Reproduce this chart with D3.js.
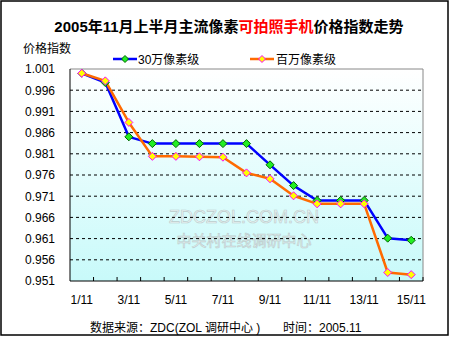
<!DOCTYPE html>
<html>
<head>
<meta charset="utf-8">
<script src="https://cdn.jsdelivr.net/npm/d3@7"></script>
<style>
  body { margin: 0; background: #fff; }
  svg { display: block; font-family: "Liberation Sans", Arial, "Noto Sans CJK SC", sans-serif; }
</style>
</head>
<body>
<svg id="chart" width="450" height="337"></svg>
<script>
// data
const days = ["1/11","2/11","3/11","4/11","5/11","6/11","7/11","8/11","9/11","10/11","11/11","12/11","13/11","14/11","15/11"]
const xLabels = ["1/11","3/11","5/11","7/11","9/11","11/11","13/11","15/11"]
const yTicks = [0.951,0.956,0.961,0.966,0.971,0.976,0.981,0.986,0.991,0.996,1.001]
const px30w = [1.000,0.9978,0.9850,0.9834,0.9834,0.9834,0.9834,0.9834,0.9784,0.9735,0.9700,0.9700,0.9700,0.9611,0.9606]
const pxMega = [1.000,0.9982,0.9884,0.9804,0.9804,0.9803,0.9802,0.9765,0.9751,0.9711,0.9692,0.9692,0.9692,0.9530,0.9525]
const series = [
  {name:"30万像素级", values:px30w, line:"#0000ff", fill:"#22ee22", edge:"#006600"},
  {name:"百万像素级", values:pxMega, line:"#ff6a00", fill:"#ffff00", edge:"#ff00ff"},
]

let svg = d3.select("#chart")
let L = 70, R = 423, T = 69, B = 281

//outer frame
svg.append("rect").attr("x",1).attr("y",1).attr("width",447).attr("height",334)
  .attr("fill","#fff").attr("stroke","#000").attr("stroke-width",1.5)

//gradient bg
let defs = svg.append("defs")
let grad = defs.append("linearGradient").attr("id","bg").attr("x1",0).attr("y1",0).attr("x2",0).attr("y2",1)
grad.append("stop").attr("offset","0%").attr("stop-color","#ffffff")
grad.append("stop").attr("offset","100%").attr("stop-color","#c8fafa")

let x = d3.scaleBand().domain(days).range([L,R]).padding(0)
let y = d3.scaleLinear().domain([0.951,1.001]).range([B,T])
let cx = d => x(d) + x.bandwidth()/2

svg.append("rect").attr("x",L).attr("y",T).attr("width",R-L).attr("height",B-T).attr("fill","url(#bg)")

//watermark
let wm = svg.append("g").attr("fill","#eef4f4").attr("stroke","#b8c4c4").attr("stroke-width",0.6)
  .attr("text-anchor","middle").attr("opacity",0.85)
wm.append("text").attr("x",244).attr("y",223).attr("font-size",18).text("ZDCZOL.COM.CN")
wm.append("text").attr("x",244).attr("y",246).attr("font-size",15).attr("font-family","Noto Sans CJK SC").text("中关村在线调研中心")

//grid
svg.append("g").selectAll("line").data(yTicks.slice(1,-1)).enter().append("line")
  .attr("x1",L).attr("x2",R).attr("y1",d => y(d)).attr("y2",d => y(d))
  .attr("stroke","#000").attr("stroke-dasharray","3,3")

//borders
svg.append("path").attr("d",`M${L},${T}H${R}V${B}`).attr("fill","none").attr("stroke","#888")
svg.append("path").attr("d",`M${L},${T}V${B}H${R}`).attr("fill","none").attr("stroke","#000")

//x ticks at band edges (inward)
let edges = days.map(d => x(d)).concat([R])
svg.append("g").selectAll("line").data(edges.slice(1)).enter().append("line")
  .attr("x1",d => d).attr("x2",d => d).attr("y1",B).attr("y2",B-4).attr("stroke","#000")

//x labels
svg.append("g").attr("transform",`translate(0,${B})`)
  .call(d3.axisBottom(x).tickValues(xLabels).tickSize(0).tickPadding(14))
  .call(g => g.select(".domain").remove())
  .call(g => g.selectAll("text").attr("font-size",12).attr("fill","#000").attr("font-family",null))

//y labels
svg.append("g").attr("transform",`translate(${L},0)`)
  .call(d3.axisLeft(y).tickValues(yTicks).tickSize(0).tickPadding(15).tickFormat(d3.format(".3f")))
  .call(g => g.select(".domain").remove())
  .call(g => g.selectAll("text").attr("font-size",12).attr("fill","#000").attr("font-family",null))

//lines
let line = d3.line().x((v,i) => cx(days[i])).y(v => y(v))
series.forEach(s => {
  svg.append("path").attr("d",line(s.values)).attr("fill","none")
    .attr("stroke",s.line).attr("stroke-width",2.5).attr("stroke-linejoin","round")
})

let diamond = (px,py,r) => `M${px},${py-r}L${px+r},${py}L${px},${py+r}L${px-r},${py}Z`
series.forEach(s => {
  svg.append("g").selectAll("path").data(s.values).enter().append("path")
    .attr("d",(v,i) => diamond(cx(days[i]),y(v),4))
    .attr("fill",s.fill).attr("stroke",s.edge).attr("stroke-width",1)
})

//legend
let lg = [[113,138],[250,276]]
series.forEach((s,i) => {
  let [x0,tx] = lg[i]
  svg.append("line").attr("x1",x0).attr("x2",x0+24).attr("y1",59).attr("y2",59).attr("stroke",s.line).attr("stroke-width",2.5)
  svg.append("path").attr("d",diamond(x0+12,59,3.5)).attr("fill",s.fill).attr("stroke",s.edge)
  svg.append("text").attr("x",tx).attr("y",63.5).attr("font-size",12).text(s.name)
})

//title
let title = svg.append("text").attr("x",229).attr("y",32).attr("text-anchor","middle")
  .attr("font-size",15).attr("font-weight","bold")
title.append("tspan").text("2005年11月上半月主流像素")
title.append("tspan").attr("fill","#ff0000").text("可拍照手机")
title.append("tspan").text("价格指数走势")

svg.append("text").attr("x",23).attr("y",53).attr("font-size",12).text("价格指数")

//footer
svg.append("text").attr("x",90).attr("y",332).attr("font-size",12).text("数据来源：ZDC(ZOL 调研中心 )")
svg.append("text").attr("x",283).attr("y",332).attr("font-size",12).text("时间：2005.11")
</script>
</body>
</html>
